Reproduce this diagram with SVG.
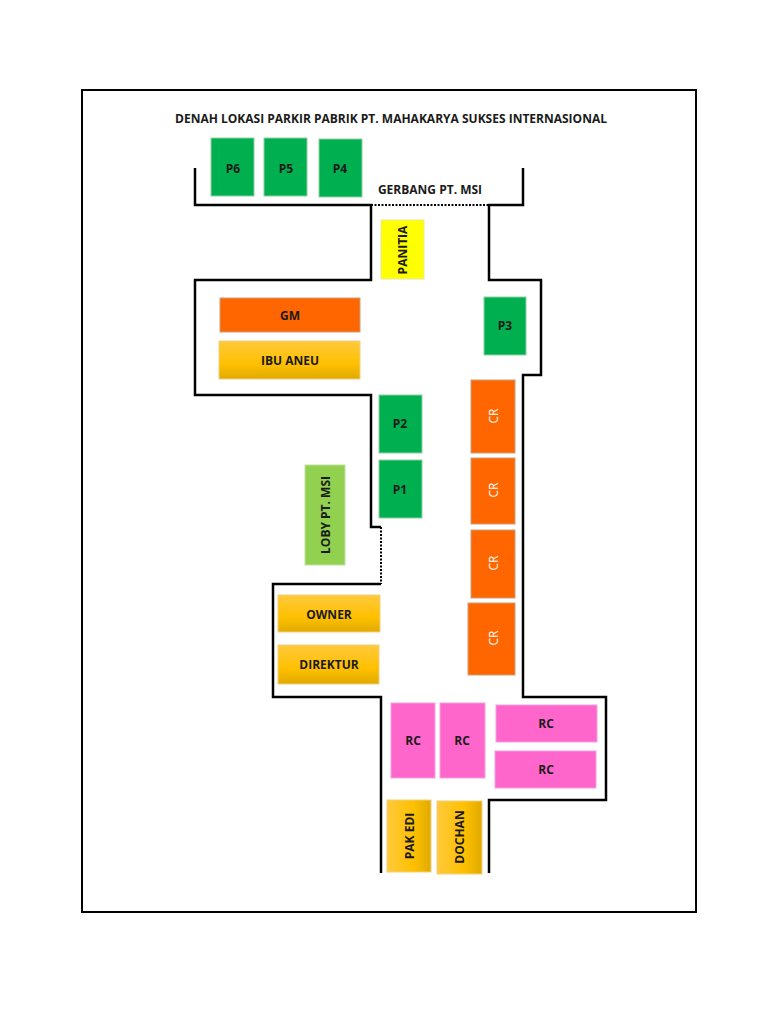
<svg xmlns="http://www.w3.org/2000/svg" width="768" height="1024" viewBox="0 0 768 1024">
<style>
text{font-family:"Open Sans","Liberation Sans",sans-serif;font-weight:bold;font-size:12px;fill:#1a1a1a;text-anchor:middle;dominant-baseline:central}
.g{fill:#00b050;stroke:#8fd19e;stroke-width:1}
.o{fill:#ff6600;stroke:#c8a080;stroke-width:1}
.y{fill:url(#yg);stroke:#f0d080;stroke-width:1}
.p{fill:#ff66cc;stroke:#f0a0e0;stroke-width:1}
.w{fill:#fff}
.wall{fill:none;stroke:#000;stroke-width:2.5}
.dash{fill:none;stroke:#000;stroke-width:2;stroke-dasharray:2,1.5}
</style>
<defs>
<linearGradient id="yg" x1="0" y1="0" x2="0" y2="1"><stop offset="0" stop-color="#ffc93c"/><stop offset="0.6" stop-color="#ffc000"/><stop offset="1" stop-color="#e0aa00"/></linearGradient>
<linearGradient id="ygh" x1="0" y1="0" x2="1" y2="0"><stop offset="0" stop-color="#ffc93c"/><stop offset="0.6" stop-color="#ffc000"/><stop offset="1" stop-color="#e0aa00"/></linearGradient>
</defs>
<rect width="768" height="1024" fill="#fff"/>
<rect x="82" y="90" width="614" height="822" fill="none" stroke="#000" stroke-width="2"/>
<text x="391" y="118">DENAH LOKASI PARKIR PABRIK PT. MAHAKARYA SUKSES INTERNASIONAL</text>
<g id="connectors">
<path class="wall" d="M195,168 V205 H371 V280 H195 V395 H371 V527 H381"/>
<path class="dash" d="M381,527 V584"/>
<path class="wall" d="M381,584 H273 V697 H381 V873"/>
<path class="dash" d="M371,205 H489"/>
<path class="wall" d="M523,168 V205 H489 V280 H541 V375 H523 V697 H606 V800 H489 V873"/>
</g>
<text x="430" y="189">GERBANG PT. MSI</text>
<g id="P6"><rect class="g" x="211" y="138" width="43" height="58"/><text x="233" y="168">P6</text></g>
<g id="P5"><rect class="g" x="264" y="138" width="43" height="58"/><text x="286" y="168">P5</text></g>
<g id="P4"><rect class="g" x="319" y="139" width="43" height="58"/><text x="340" y="168">P4</text></g>
<g id="PANITIA"><rect x="381" y="220" width="43" height="59" fill="#ffff00" stroke="#e8e8a0"/><text transform="translate(402,250) rotate(-90)">PANITIA</text></g>
<g id="GM"><rect class="o" x="220" y="298" width="140" height="34"/><text x="290" y="315">GM</text></g>
<g id="IBU_ANEU"><rect class="y" x="219" y="341" width="141" height="38"/><text x="290" y="360">IBU ANEU</text></g>
<g id="P3"><rect class="g" x="484" y="297" width="42" height="58"/><text x="505" y="325">P3</text></g>
<g id="P2"><rect class="g" x="379" y="395" width="43" height="58"/><text x="400" y="423">P2</text></g>
<g id="P1"><rect class="g" x="379" y="460" width="43" height="58"/><text x="400" y="489">P1</text></g>
<g id="LOBY"><rect x="305" y="465" width="40" height="100" fill="#92d050" stroke="#c0e0a0"/><text transform="translate(325,515) rotate(-90)">LOBY PT. MSI</text></g>
<g id="CR1"><rect class="o" x="471" y="380" width="44" height="73"/><text transform="translate(493,416) rotate(-90)" style="fill:#fff;font-weight:normal">CR</text></g>
<g id="CR2"><rect class="o" x="471" y="458" width="44" height="66"/><text transform="translate(493,490) rotate(-90)" style="fill:#fff;font-weight:normal">CR</text></g>
<g id="CR3"><rect class="o" x="471" y="530" width="44" height="68"/><text transform="translate(493,563) rotate(-90)" style="fill:#fff;font-weight:normal">CR</text></g>
<g id="CR4"><rect class="o" x="468" y="603" width="47" height="72"/><text transform="translate(493,638) rotate(-90)" style="fill:#fff;font-weight:normal">CR</text></g>
<g id="OWNER"><rect class="y" x="278" y="595" width="102" height="37"/><text x="329" y="614">OWNER</text></g>
<g id="DIREKTUR"><rect class="y" x="278" y="645" width="101" height="39"/><text x="329" y="664">DIREKTUR</text></g>
<g id="RC1"><rect class="p" x="391" y="703" width="44" height="75"/><text x="413" y="740">RC</text></g>
<g id="RC2"><rect class="p" x="440" y="703" width="45" height="75"/><text x="462" y="740">RC</text></g>
<g id="RC3"><rect class="p" x="496" y="705" width="101" height="37"/><text x="546" y="723">RC</text></g>
<g id="RC4"><rect class="p" x="495" y="751" width="101" height="37"/><text x="546" y="769">RC</text></g>
<g id="PAK_EDI"><rect x="387" y="800" width="44" height="72" fill="url(#ygh)" stroke="#f0d080"/><text transform="translate(409,836) rotate(-90)">PAK EDI</text></g>
<g id="DOCHAN"><rect x="437" y="801" width="45" height="73" fill="url(#ygh)" stroke="#f0d080"/><text transform="translate(459,837) rotate(-90)">DOCHAN</text></g>
</svg>
